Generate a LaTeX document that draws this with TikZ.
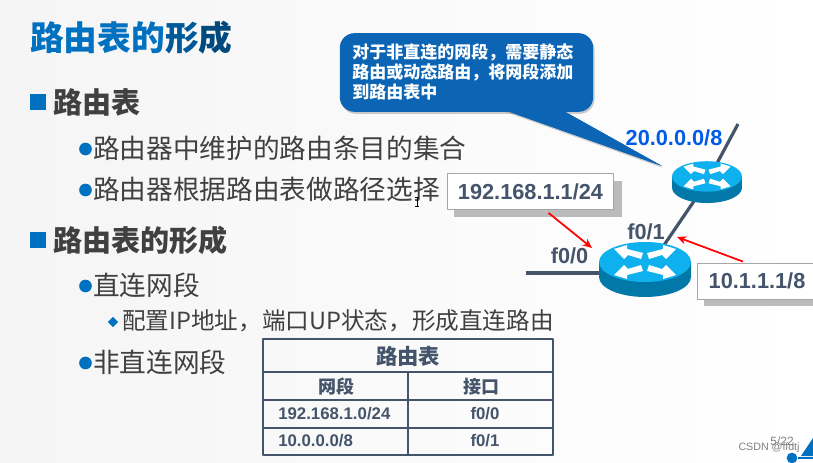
\documentclass[tikz,border=0pt]{standalone}
\usepackage{fontspec}
\setmainfont{Noto Sans CJK SC}
\newfontfamily\ipfont{Liberation Sans}
\usetikzlibrary{shadows,arrows.meta,shapes.geometric}
\definecolor{slideblue}{HTML}{0070C0}
\definecolor{calloutblue}{HTML}{0B65B4}
\definecolor{bodygray}{HTML}{404040}
\definecolor{slategray}{HTML}{44546A}
\definecolor{routertop}{HTML}{0FB0EE}
\definecolor{routerside}{HTML}{0178A8}
\definecolor{shadowgray}{HTML}{BBBBBB}
\tikzset{
	heading/.style={anchor=west, font=\fontsize{21.8}{24}\selectfont\bfseries, text=bodygray, inner sep=0pt},
	bodytext/.style={anchor=west, font=\fontsize{20}{24}\selectfont, text=bodygray, inner sep=0pt},
	subtext/.style={anchor=west, font=\fontsize{17.7}{22}\selectfont, text=bodygray, inner sep=0pt},
	iplabel/.style={font=\ipfont\fontsize{16.3}{20}\selectfont\bfseries, text=slategray, inner sep=0pt},
	ipbox/.style={iplabel, draw=gray!70, line width=0.6pt, fill=white, minimum height=27pt},
	tablehead/.style={font=\fontsize{13.5}{16}\selectfont\bfseries, text=slategray, inner sep=0pt},
	tablecell/.style={font=\ipfont\fontsize{12.6}{15}\selectfont\bfseries, text=slategray, inner sep=0pt},
	wire/.style={draw=slategray, line width=2.4pt},
	redarrow/.style={draw=red, line width=1.3pt, -{Stealth[length=7pt,width=6pt]}},
	squarebullet/.style={fill=slideblue, inner sep=0pt, minimum size=12pt},
	roundbullet/.style={circle, fill=slideblue, inner sep=0pt, minimum size=9.5pt},
}
% one router: name, x, y, size
\newcommand{\router}[4]{
	\node[inner sep=0pt, minimum size=1pt] (#1) at (#2,#3) {};
	\begin{scope}[shift={(#2,#3)}, scale=#4]
		\fill[routerside] (-46,-8) -- (-46,7) arc[start angle=180, end angle=0, x radius=46, y radius=20] -- (46,-8) -- cycle;
		\fill[routertop] (0,-8) ellipse[x radius=46, y radius=20];
		\foreach \sx/\sy in {1/1,-1/1,1/-1,-1/-1}{
			\begin{scope}[shift={(0,-8)}, xscale=\sx, yscale=\sy]
				\fill[white] (-31,-13) -- (-18,-17) -- (-18,-13) -- (-2,-9) -- (-4,-3) -- (-17,-7) -- (-21,-3) -- cycle;
			\end{scope}
		}
	\end{scope}
}
\begin{document}
\begin{tikzpicture}[x=0.75pt, y=-0.75pt, line join=round]
	\useasboundingbox (0,0) rectangle (813,463);
	\shade[left color=black!4, right color=white] (0,0) rectangle (813,463);
	% title and text
	\node[anchor=west, inner sep=0pt, font=\fontsize{25.3}{30}\selectfont\bfseries, text=slideblue] (title) at (30,38) {路由表的{\color{slideblue!80!black}形}{\color{slideblue!65!black}成}};
	\node[squarebullet] (b1) at (38,102) {};
	\node[heading] (h1) at (53,102) {路由表};
	\node[roundbullet] (c1) at (85.5,149) {};
	\node[bodytext] (t1) at (93,148) {路由器中维护的路由条目的集合};
	\node[roundbullet] (c2) at (85.5,190) {};
	\node[bodytext] (t2) at (93,189) {路由器根据路由表做路径选择};
	\draw[black, line width=0.5pt] (417,197)--(417,206) (415,197)--(419,197) (415,206)--(419,206);
	\node[squarebullet] (b2) at (38,240) {};
	\node[heading] (h2) at (53,240) {路由表的形成};
	\node[roundbullet] (c3) at (85.5,286) {};
	\node[bodytext] (t3) at (93,285) {直连网段};
	\node[diamond, fill=slideblue, inner sep=0pt, minimum size=8pt] (d1) at (113,322) {};
	\node[subtext] (t4) at (122,321) {配置IP地址，端口UP状态，形成直连路由};
	\node[roundbullet] (c4) at (85.5,363) {};
	\node[bodytext] (t5) at (93,362) {非直连网段};
	% callout
	\coordinate (tip) at (662,166);
	\coordinate (tail1) at (490,105);
	\coordinate (tail2) at (553,105);
	\fill[calloutblue, drop shadow={shadow xshift=1pt, shadow yshift=-1.5pt, fill=black!40}] (tail1) -- (tip) -- (tail2) -- cycle;
	\node[fill=calloutblue, rounded corners=11pt, minimum width=190pt, minimum height=59pt, inner sep=0pt, drop shadow={shadow xshift=1pt, shadow yshift=-1.5pt, fill=black!40}] (call) at (466.5,72.5) {};
	\fill[calloutblue] (tail1) -- (tip) -- (tail2) -- cycle;
	\node[anchor=west, align=left, inner sep=0pt, text=white, font=\fontsize{12.75}{15}\selectfont\bfseries] (calltext) at (352,72) {对于非直连的网段，需要静态\\路由或动态路由，将网段添加\\到路由表中};
	% routers and wires
	\coordinate (wa) at (738,124);
	\coordinate (wb) at (526,273);
	\node[inner sep=0pt, minimum size=1pt] (r1) at (707,182) {};
	\node[inner sep=0pt, minimum size=1pt] (r2) at (645,273) {};
	\draw[wire] (wa)--(r1)--(r2);
	\draw[wire] (wb)--(r2);
	\router{ra}{707}{182.5}{0.76}
	\router{rb}{645}{270}{1}
	\node[iplabel, text=blue!60!cyan!90!black, anchor=center] (net) at (674,138) {20.0.0.0/8};
	\node[iplabel] (f1) at (646,232) {f0/1};
	\node[iplabel] (f0) at (569.5,256) {f0/0};
	% address boxes
	\fill[shadowgray] (454,181) rectangle (622,217);
	\node[ipbox, minimum width=125pt] (lab1) at (530.5,191.5) {192.168.1.1/24};
	\fill[shadowgray] (704,270) rectangle (813,306);
	\node[ipbox, minimum width=90pt] (lab2) at (757,281) {10.1.1.1/8};
	\coordinate (e1) at (592,248);
	\coordinate (e2) at (677,237);
	\draw[redarrow] ([shift={(18,3)}]lab1.south) -- (e1);
	\draw[redarrow] ([shift={(-14,-1)}]lab2.north) -- (e2);
	% table
	\coordinate (T1) at (263,339);
	\coordinate (T2) at (553,455);
	\draw[slategray, line width=0.9pt] (T1) rectangle (T2);
	\foreach \y in {372,400,428}{
		\draw[slategray, line width=0.9pt] (263,\y) -- (553,\y);
	}
	\draw[slategray, line width=0.9pt] (408,372) -- (408,455);
	\node[tablehead, font=\fontsize{16}{18}\selectfont\bfseries] (thead) at (408,356) {路由表};
	\node[tablehead] (c11) at (336,387) {网段};
	\node[tablehead] (c12) at (481,387) {接口};
	\node[tablecell, anchor=west] (c21) at (278,414) {192.168.1.0/24};
	\node[tablecell] (c22) at (485,414) {f0/0};
	\node[tablecell, anchor=west] (c31) at (278,441) {10.0.0.0/8};
	\node[tablecell] (c32) at (485,441) {f0/1};
	% page corner
	\fill[slideblue] (813,438) -- (801,456) -- (813,456) -- cycle;
	\node[circle, fill=slideblue, inner sep=0pt, minimum size=8pt] (dot) at (792,458) {};
	\coordinate (rim) at (813,458);
	\draw[slideblue, line width=1pt] (dot) -- (rim);
	\node[text=gray, font=\ipfont\fontsize{9}{10}\selectfont, inner sep=0pt] (page) at (782,441) {5/22};
	\node[text=gray, font=\ipfont\fontsize{8}{10}\selectfont, inner sep=0pt] (mark) at (769,448) {CSDN @ffdtj};
\end{tikzpicture}
\end{document}
